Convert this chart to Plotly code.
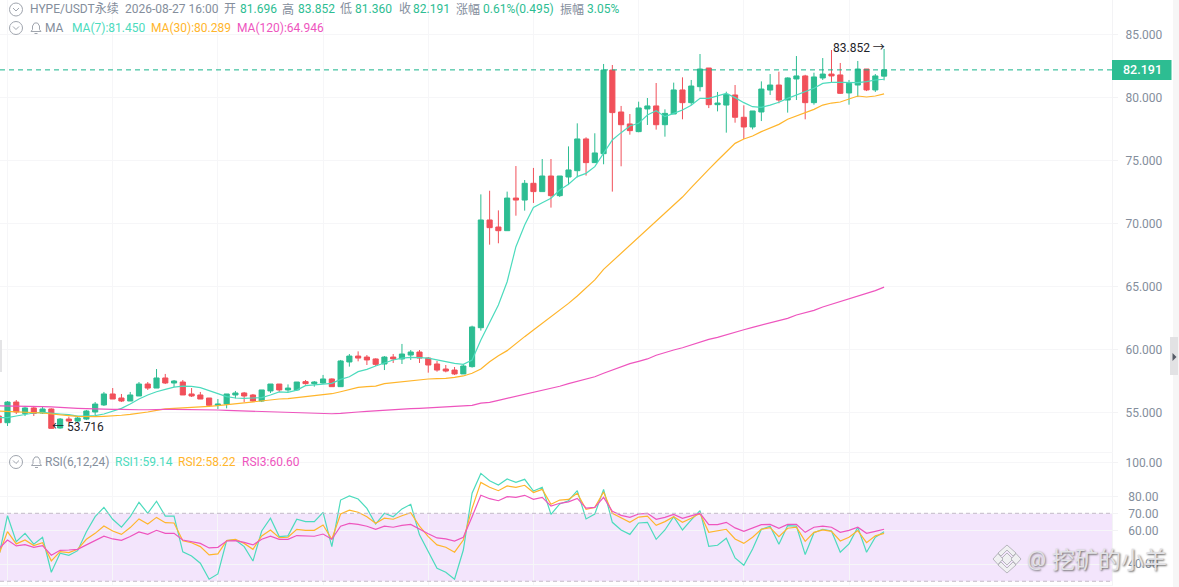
import plotly.graph_objects as go
from plotly.subplots import make_subplots

# K线数据 HYPE/USDT
opens=[54.72,54.19,55.83,54.93,55.36,54.96,55.28,53.77,54.48,54.32,54.48,55.04,55.60,56.47,56.15,55.91,56.31,57.26,56.94,57.74,
57.34,57.42,56.47,56.39,56.15,55.57,55.67,56.39,56.55,56.39,55.91,56.71,57.26,56.79,56.79,57.45,57.29,57.34,57.66,57.05,
59.01,59.48,59.40,59.25,58.85,59.40,59.25,59.56,59.80,59.32,58.85,58.45,58.37,58.06,58.64,61.73,70.28,69.72,69.43,72.02,
71.86,73.19,72.53,73.77,72.21,73.69,74.19,76.71,74.83,75.54,82.18,78.85,77.90,77.29,79.09,79.33,77.84,78.69,80.60,79.59,
80.86,82.34,79.43,79.40,80.20,78.43,77.66,78.85,80.59,80.99,79.80,81.47,81.71,79.59,81.55,81.86,81.79,80.36,80.99,82.26,
80.60,81.696]
highs=[54.80,55.91,55.99,55.52,55.52,55.44,55.33,54.56,54.67,54.72,55.20,55.83,56.63,56.94,56.47,56.63,57.42,57.42,58.45,58.06,
57.58,57.58,56.94,56.63,56.15,56.07,56.47,56.71,56.63,56.47,56.79,57.26,57.26,57.23,57.42,57.58,57.50,57.98,57.71,59.17,
59.64,59.85,59.56,59.30,59.48,59.64,60.44,59.96,59.96,59.40,59.09,58.77,58.61,58.85,61.89,72.31,72.60,71.04,72.53,74.56,
73.45,74.41,75.12,75.12,73.77,76.12,77.95,76.84,77.16,82.66,82.58,79.33,78.69,79.67,79.96,81.15,79.06,81.18,81.60,81.39,
83.45,82.34,80.44,80.46,80.99,79.38,78.93,81.28,81.86,82.05,81.60,83.29,81.80,81.97,83.13,83.77,82.74,81.39,82.90,82.26,
81.86,83.852]
lows=[54.09,53.93,54.88,54.72,54.72,54.88,53.716,53.72,54.25,54.25,54.40,54.80,55.52,56.07,55.83,55.91,56.31,56.79,56.94,57.26,
57.02,56.39,56.23,56.07,55.44,55.28,55.33,56.12,55.83,55.83,55.83,56.55,56.63,56.63,56.71,57.21,57.05,57.26,57.05,57.05,
58.64,59.06,58.77,58.69,58.37,58.93,58.85,59.17,58.93,58.16,58.24,58.19,57.98,58.06,58.56,61.50,68.32,68.43,69.43,70.62,
71.02,71.63,72.53,71.26,72.10,73.05,73.66,73.80,74.83,74.70,72.53,74.54,77.05,77.24,77.82,77.45,76.89,78.69,78.27,79.40,
80.49,79.16,78.90,77.21,78.00,76.71,77.47,78.13,80.20,79.54,78.80,79.80,78.27,79.43,81.39,81.23,80.28,79.43,80.04,80.51,
80.44,81.36]
closes=[54.19,55.83,55.04,55.36,54.93,55.28,53.74,54.48,54.32,54.56,55.12,55.67,56.47,56.07,55.91,56.39,57.26,56.94,57.74,57.34,
57.50,56.39,56.31,56.07,55.57,55.67,56.47,56.55,56.31,55.91,56.79,57.26,56.79,56.94,57.42,57.29,57.42,57.66,57.05,59.09,
59.48,59.32,59.17,58.82,59.40,59.25,59.64,59.80,59.32,58.77,58.37,58.29,58.06,58.69,61.79,70.28,69.67,69.43,72.02,71.86,
73.19,72.53,73.77,72.21,73.77,74.25,76.71,74.83,75.60,82.18,78.80,77.84,77.37,79.17,79.33,77.84,78.74,80.60,79.59,80.91,
82.26,79.43,79.56,80.25,78.43,77.66,78.93,80.67,80.99,79.80,81.55,81.71,79.59,81.63,81.86,81.71,80.33,81.12,82.26,80.60,
81.71,82.191]

ma7=[54.60,54.59,54.72,54.83,54.96,55.01,54.93,54.88,54.83,54.72,54.72,54.75,54.88,55.12,55.33,55.67,56.07,56.39,56.65,56.84,
57.02,57.10,57.08,56.97,56.73,56.44,56.26,56.15,56.12,56.15,56.18,56.39,56.63,56.60,56.78,57.13,57.18,57.26,57.31,57.63,
57.84,58.24,58.42,58.69,58.95,59.17,59.32,59.38,59.35,59.32,59.17,59.03,58.90,58.82,59.17,60.75,62.08,63.53,65.38,68.16,
69.88,71.28,71.65,72.00,72.66,73.11,73.72,73.98,74.51,75.52,76.63,77.21,77.74,77.95,78.61,78.95,78.48,78.74,79.01,79.38,
79.93,79.93,80.14,80.33,79.99,79.59,79.27,79.22,79.40,79.62,79.93,80.20,80.52,80.73,81.12,81.20,81.20,81.18,81.18,81.26,
81.39,81.45]
ma30=[55.12,55.09,55.07,55.01,54.99,54.96,54.88,54.80,54.75,54.70,54.67,54.67,54.70,54.72,54.78,54.85,54.93,55.04,55.17,55.28,
55.33,55.36,55.38,55.44,55.49,55.54,55.62,55.70,55.81,55.86,55.94,56.02,56.07,56.10,56.18,56.26,56.31,56.39,56.49,56.65,
56.81,57.00,57.05,57.10,57.29,57.37,57.45,57.53,57.63,57.66,57.69,57.71,57.79,57.90,58.11,58.45,59.03,59.51,59.91,60.49,
61.02,61.55,62.08,62.61,63.08,63.66,64.25,64.85,65.52,66.36,67.00,67.63,68.21,68.90,69.54,70.15,70.81,71.47,72.10,72.85,
73.60,74.30,75.00,75.65,76.36,76.71,76.94,77.29,77.61,77.87,78.27,78.53,78.74,79.06,79.40,79.56,79.64,79.88,80.12,80.04,
80.12,80.289]
ma120=[55.52,55.52,55.52,55.49,55.49,55.46,55.44,55.38,55.36,55.33,55.30,55.28,55.25,55.25,55.25,55.22,55.22,55.22,55.25,55.25,
55.25,55.25,55.25,55.25,55.22,55.20,55.17,55.15,55.12,55.09,55.07,55.07,55.04,55.01,55.01,54.96,54.93,54.90,54.90,54.93,
54.96,55.04,55.09,55.14,55.17,55.22,55.25,55.30,55.33,55.36,55.38,55.44,55.46,55.51,55.56,55.75,55.80,55.96,56.12,56.28,
56.44,56.60,56.73,56.89,57.08,57.29,57.47,57.68,57.84,58.11,58.37,58.61,58.88,59.06,59.25,59.54,59.78,59.96,60.14,60.38,
60.60,60.80,60.96,61.18,61.36,61.57,61.76,61.94,62.10,62.29,62.47,62.74,62.92,63.11,63.37,63.58,63.80,64.01,64.22,64.43,
64.67,64.946]

rsi1=[44.5,68.6,53.3,58.2,51.8,55.9,35.3,46.5,45.3,48.0,59.2,68.0,73.5,66.5,61.8,68.0,76.5,70.0,77.1,68.4,
68.4,47.3,44.9,40.6,31.2,34.3,53.9,54.3,50.4,41.9,59.6,67.1,56.3,56.7,66.5,65.1,65.1,70.6,50.4,77.8,
80.2,78.4,72.9,63.7,70.0,68.0,72.6,75.3,57.3,47.5,37.6,35.3,31.2,48.4,81.8,93.5,89.2,86.7,90.2,88.2,
90.0,83.1,85.3,69.4,75.5,77.4,83.3,66.7,69.6,84.1,64.7,60.2,57.6,64.3,64.7,54.7,60.2,68.0,60.2,66.1,
71.6,50.6,51.2,55.3,43.7,39.4,49.0,60.6,62.4,51.8,62.8,62.5,45.7,58.6,60.6,59.6,47.1,52.0,61.8,47.1,
55.9,59.14]
rsi2=[45.5,59.2,52.0,54.3,51.0,52.7,42.0,47.4,46.9,48.8,54.7,58.2,62.5,59.6,57.6,61.6,66.7,63.7,67.6,64.5,
64.3,53.9,52.7,50.4,45.5,46.1,53.9,54.7,52.3,48.8,56.7,60.2,55.7,55.9,60.6,60.0,60.0,63.1,54.7,69.6,
71.8,70.6,68.0,64.1,67.1,66.5,68.6,70.4,62.5,56.3,51.4,50.0,47.1,54.3,72.9,88.2,85.3,83.3,86.1,85.3,
86.5,82.2,84.1,75.3,77.8,78.2,81.8,72.4,73.5,82.5,70.0,67.1,64.7,67.8,68.4,62.9,65.1,68.0,64.7,67.1,
70.0,58.8,59.6,60.6,54.9,52.3,55.9,60.6,61.6,56.3,61.2,61.8,53.5,58.8,60.2,59.4,53.7,55.9,59.8,52.7,
56.7,58.22]
rsi3=[49.0,54.3,50.8,51.6,50.0,51.0,45.3,48.2,48.4,48.8,51.4,53.9,56.5,54.9,54.1,56.3,59.0,57.6,60.0,58.2,
58.2,54.3,53.5,52.3,49.6,50.0,53.7,53.9,52.9,51.4,54.7,56.5,54.7,54.7,56.9,56.5,56.5,57.8,54.7,62.4,
64.1,63.5,62.4,60.6,62.4,61.8,62.9,63.5,60.6,58.0,55.5,54.9,53.7,55.9,68.0,80.6,78.6,77.4,79.8,79.4,
80.6,78.2,79.4,74.3,75.9,76.7,78.8,73.1,73.5,79.4,71.2,68.8,67.6,69.6,70.0,66.5,67.6,69.4,67.1,68.6,
70.0,63.3,63.3,64.7,61.4,59.4,61.2,63.3,63.5,61.2,63.5,63.5,58.8,61.8,62.4,61.8,58.8,60.0,61.8,58.2,
59.4,60.60]

price_ticks=[55,60,65,70,75,80,85]
rsi_ticks=[40,60,70,80,100]
x=list(range(len(closes)))
time_ticks=list(range(1,len(closes),12))

W,H=1179,587
GREEN,RED="#2DBD92","#F1505A"
TEAL,ORANGE,PINK="#4CDBBD","#FFB52B","#EE55BE"
GREY,GRID="#848E9C","#F6F6F8"

def px(v): return v/W
def py(v): return 1-v/H

fig=make_subplots(rows=2,cols=1,shared_xaxes=True)
fig.add_trace(go.Candlestick(x=x,open=opens,high=highs,low=lows,close=closes,whiskerwidth=0,
    increasing=dict(line=dict(color=GREEN,width=1),fillcolor=GREEN),
    decreasing=dict(line=dict(color=RED,width=1),fillcolor=RED)),row=1,col=1)
for vals,c in ((ma7,TEAL),(ma30,ORANGE),(ma120,PINK)):
    fig.add_trace(go.Scatter(x=x,y=vals,mode="lines",line=dict(color=c,width=1.2)),row=1,col=1)
for vals,c in ((rsi1,TEAL),(rsi2,ORANGE),(rsi3,PINK)):
    fig.add_trace(go.Scatter(x=x,y=vals,mode="lines",line=dict(color=c,width=1.2)),row=2,col=1)

shapes=[]
annos=[]

def label(xp,yp,text,color=GREY,size=12,anchor="left",**kw):
    annos.append(dict(x=px(xp),y=py(yp),xref="paper",yref="paper",text=text,showarrow=False,xanchor=anchor,yanchor="middle",
        font=dict(family="Roboto, 'Noto Sans CJK SC', sans-serif",size=size,color=color,**kw),borderpad=0,borderwidth=0))

def path(points,close=False,**kw):
    d="M "+" L ".join(f"{px(a):.5f},{py(b):.5f}" for a,b in points)+(" Z" if close else "")
    shapes.append(dict(type="path",path=d,xref="paper",yref="paper",**kw))

def rect(x0,y0,x1,y1,fill):
    shapes.append(dict(type="rect",xref="paper",yref="paper",x0=px(x0),x1=px(x1),y0=py(y0),y1=py(y1),fillcolor=fill,line_width=0))

# 折叠按钮和铃铛
def chevron(cx,cy):
    shapes.append(dict(type="circle",xref="paper",yref="paper",x0=px(cx-6.5),x1=px(cx+6.5),y0=py(cy-6.5),y1=py(cy+6.5),line=dict(color="#A0A5AE",width=1)))
    path([(cx-3,cy-1.5),(cx,cy+1.5),(cx+3,cy-1.5)],line=dict(color="#A0A5AE",width=1))

def bell(cx,cy):
    path([(cx-5,cy+3.5),(cx-3.5,cy+1.5),(cx-3.5,cy-2),(cx-1.5,cy-5),(cx+1.5,cy-5),(cx+3.5,cy-2),(cx+3.5,cy+1.5),(cx+5,cy+3.5)],close=True,line=dict(color="#A0A5AE",width=1))
    path([(cx-1.5,cy+5.5),(cx+1.5,cy+5.5)],line=dict(color="#A0A5AE",width=1))

# 顶部信息栏
chevron(16,9.5)
label(30,9.5,"HYPE/USDT永续")
label(124.5,9.5,"2026-08-27 16:00")
for xp,t in ((224,"开"),(282,"高"),(340,"低"),(398.5,"收"),(455.5,"涨幅"),(560,"振幅")):
    label(xp,9.5,t)
for xp,t in ((239.5,"81.696"),(297.5,"83.852"),(355,"81.360"),(413,"82.191"),(482.5,"0.61%(0.495)"),(587,"3.05%")):
    label(xp,9.5,t,GREEN)
chevron(16,28)
bell(36,28)
label(45,28,"MA")
label(71.5,28,"MA(7):81.450",TEAL)
label(151,28,"MA(30):80.289",ORANGE)
label(237,28,"MA(120):64.946",PINK)
chevron(16,462)
bell(36.5,462)
label(44.5,462,"RSI(6,12,24)")
label(115,462,"RSI1:59.14",TEAL)
label(178,462,"RSI2:58.22",ORANGE)
label(241.5,462,"RSI3:60.60",PINK)

# 最高最低价标记
label(833,48,"83.852 →","#1E2329",12)
label(52,427,"← 53.716","#1E2329",12)

# 当前价虚线和价签
shapes.append(dict(type="line",xref="paper",yref="y",x0=0,x1=px(1112),y0=closes[-1],y1=closes[-1],line=dict(color="#17B48A",width=1,dash="5px,4px")))
rect(1112,60,1171.5,80,GREEN)
label(1142,70,"82.191","#FFFFFF",12.5,anchor="center",weight=500)

# RSI 区间
shapes.append(dict(type="rect",xref="paper",yref="y2",x0=0,x1=px(1112),y0=30,y1=70,fillcolor="rgba(190,110,240,0.18)",line_width=0,layer="below"))
for lv in (30,70):
    shapes.append(dict(type="line",xref="paper",yref="y2",x0=0,x1=px(1112),y0=lv,y1=lv,line=dict(color="#C3BAC8",width=1,dash="4px,3px")))

# 右侧和左侧的把手
rect(1173,0,1179,587,"#F6F6F6")
shapes.append(dict(type="rect",xref="paper",yref="paper",x0=px(1170),x1=px(1178),y0=py(337),y1=py(375),fillcolor="#E2E2E4",line_width=0))
path([(1172.5,353),(1176.5,357),(1172.5,361)],close=True,fillcolor="#555B66",line_width=0)
rect(0,340,2,372,"#E4E4E6")

# 水印
wm=dict(fillcolor="#F0F0F2",line=dict(color="#A8A8AE",width=0.8))
path([(1007,553),(1013,559),(1007,565),(1001,559)],close=True,**wm)
path([(998,553.5),(1003,559),(998,564.5),(993,559)],close=True,**wm)
path([(1016,553.5),(1021,559),(1016,564.5),(1011,559)],close=True,**wm)
path([(1007,545),(1016,553),(1013,556),(1007,550),(1001,556),(998,553)],close=True,**wm)
path([(1007,573),(1016,565),(1013,562),(1007,568),(1001,562),(998,565)],close=True,**wm)
label(1027,559,"@","#E2E2E6",21,shadow="1px 1px 2px #666666")
label(1052,560,"挖矿的小羊","#E2E2E6",23,shadow="1px 1px 2px #666666")

axis_x=dict(range=[0.145,127],domain=[0,px(1112)],showticklabels=False,ticks="",tickvals=time_ticks,showgrid=True,gridcolor=GRID,gridwidth=1,
    zeroline=False,rangeslider=dict(visible=False),showline=True,linecolor=GRID,linewidth=1)
axis_y=dict(side="right",showgrid=True,gridcolor=GRID,gridwidth=1,zeroline=False,showline=True,linecolor="#F3F3F5",linewidth=1,
    ticks="outside",ticklen=5,tickcolor="#F3F3F5",ticklabelstandoff=5,tickfont=dict(family="Roboto, sans-serif",size=12,color=GREY))

fig.update_layout(width=W,height=H,autosize=False,margin=dict(l=0,r=0,t=0,b=0),paper_bgcolor="#FFFFFF",plot_bgcolor="#FFFFFF",
    showlegend=False,hovermode=False,boxgap=0.16,shapes=shapes,annotations=annos,
    xaxis={**axis_x},
    xaxis2={**axis_x},
    yaxis={**axis_y,"domain":[py(452),1],"range":[51.865,87.738],"tickvals":price_ticks,"ticktext":[f"{v:.3f}" for v in price_ticks]},
    yaxis2={**axis_y,"domain":[py(585),py(453)],"range":[27.8,105.5],"tickvals":rsi_ticks,"ticktext":[(f"{v:.2f}" if v==100 else f" {v:.2f}") for v in rsi_ticks]})
for arr in (opens,highs,lows,ma7,ma30,ma120,rsi1,rsi2,rsi3):
    assert len(arr)==len(closes),len(arr)

fig.write_html("out.html",config=dict(displayModeBar=False),
    post_script="document.body.style.margin='0';document.body.style.overflow='hidden';")
